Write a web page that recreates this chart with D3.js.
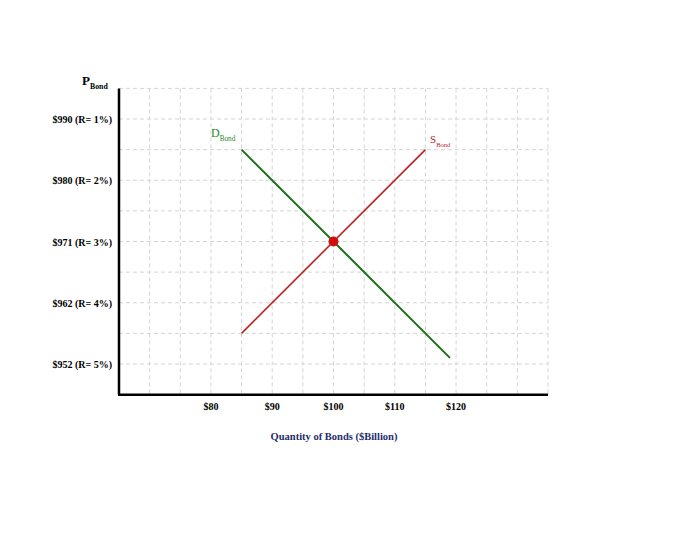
<!DOCTYPE html>
<html><head><meta charset="utf-8">
<script src="https://cdn.jsdelivr.net/npm/d3@7"></script>
<style>body{margin:0;background:#fff}text{font-family:"Liberation Serif",serif}</style>
</head><body><svg id="c" width="700" height="554"></svg>
<script>
const yLabels=["$952 (R= 5%)","$962 (R= 4%)","$971 (R= 3%)","$980 (R= 2%)","$990 (R= 1%)"];
const xTicks=[80,90,100,110,120];
const demand=[[85,3.5],[119,0.1]];
const supply=[[85,0.5],[115,3.5]];
const equilibrium=[100,2];
const svg=d3.select("#c");
const x=d3.scaleLinear().domain([65,135]).range([119,548]);
const y=d3.scaleLinear().domain([0,4]).range([364,119]);
const g=svg.append("g");
const grid="#d4d4d4";
d3.range(70,136,5).forEach(v=>g.append("line").attr("x1",x(v)).attr("x2",x(v)).attr("y1",y(4.5)).attr("y2",y(-0.5)).attr("stroke",grid).attr("stroke-dasharray","4,3"));
d3.range(0,4.6,0.5).forEach(v=>g.append("line").attr("x1",x(65)).attr("x2",x(135)).attr("y1",y(v)).attr("y2",y(v)).attr("stroke",grid).attr("stroke-dasharray","4,3"));
svg.append("line").attr("x1",x(65)).attr("x2",x(65)).attr("y1",y(4.5)).attr("y2",y(-0.5)).attr("stroke","#000").attr("stroke-width",2.5);
svg.append("line").attr("x1",x(65)-1).attr("x2",x(135)).attr("y1",y(-0.5)).attr("y2",y(-0.5)).attr("stroke","#000").attr("stroke-width",2.5);
yLabels.forEach((l,i)=>svg.append("text").attr("x",112).attr("y",y(i)+4).attr("text-anchor","end").attr("font-size",10).attr("font-weight","bold").text(l));
xTicks.forEach(v=>svg.append("text").attr("x",x(v)).attr("y",410).attr("text-anchor","middle").attr("font-size",10).attr("font-weight","bold").text("$"+v));
svg.append("text").attr("x",334).attr("y",440).attr("text-anchor","middle").attr("font-size",10.5).attr("font-weight","bold").attr("fill","#1f2d6b").text("Quantity of Bonds ($Billion)");
const line=d3.line().x(d=>x(d[0])).y(d=>y(d[1]));
svg.append("path").attr("d",line(demand)).attr("stroke","#1a6e1a").attr("stroke-width",2).attr("fill","none");
svg.append("path").attr("d",line(supply)).attr("stroke","#c0221e").attr("stroke-width",1.6).attr("fill","none");
svg.append("circle").attr("cx",x(equilibrium[0])).attr("cy",y(equilibrium[1])).attr("r",5).attr("fill","#d01010");
function lab(t,s,px,py,c,fs,bold){const tx=svg.append("text").attr("x",px).attr("y",py).attr("fill",c).attr("font-size",fs).attr("font-weight",bold?"bold":"normal");tx.append("tspan").text(t);tx.append("tspan").attr("dy",4).attr("font-size",fs*0.6).text(s);}
lab("D","Bond",211,137,"#2a8a2a",12,false);
lab("S","Bond",430,143,"#c0221e",11,false);
lab("P","Bond",82,85,"#000",13,true);
</script></body></html>
